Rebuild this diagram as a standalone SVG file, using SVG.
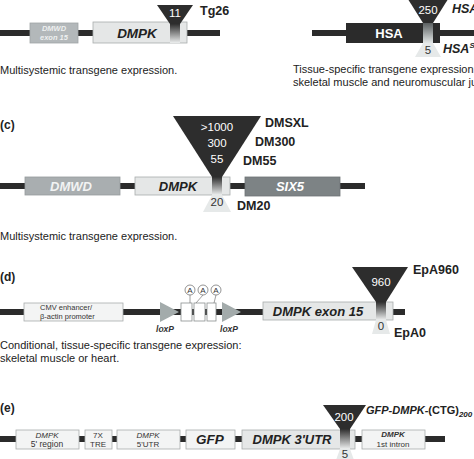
<svg xmlns="http://www.w3.org/2000/svg" width="474" height="459" viewBox="0 0 474 459">
<defs>
<linearGradient id="stripe" x1="0" y1="0" x2="0" y2="1">
<stop offset="0" stop-color="#2e2e2e"/>
<stop offset="1" stop-color="#eceeee"/>
</linearGradient>
<linearGradient id="stripeL" x1="0" y1="0" x2="0" y2="1">
<stop offset="0" stop-color="#5a5f60"/>
<stop offset="1" stop-color="#e2e6e6"/>
</linearGradient>
<style>
text{font-family:"Liberation Sans",Arial,sans-serif;fill:#222}
.bb{stroke:#2b2b2b;stroke-width:6;fill:none}
.lbox{fill:#e5e7e7;stroke:#a9adad;stroke-width:0.8}
.wbox{fill:#f3f4f4;stroke:#a9adad;stroke-width:0.8}
.tri{fill:#2d2d2d}
.ltri{fill:#e6e9e9}
.cap{font-size:11px}
.lbl{font-size:12.5px;font-weight:bold}
.sec{font-size:12px;font-weight:bold}
.num{font-size:11.5px;fill:#fff;text-anchor:middle}
.numd{font-size:11.5px;fill:#333;text-anchor:middle}
.bi{font-weight:bold;font-style:italic;text-anchor:middle}
.sm{font-size:8px;text-anchor:middle;fill:#333}
</style>
</defs>

<g id="connectors">
<line class="bb" x1="0" y1="33" x2="220" y2="33"/>
<line class="bb" x1="312" y1="33" x2="474" y2="33"/>
<line class="bb" x1="0" y1="186" x2="365" y2="186"/>
<line class="bb" x1="0" y1="312" x2="405" y2="312"/>
<line class="bb" x1="0" y1="439" x2="445" y2="439"/>
</g>

<!-- (a) -->
<g id="a-dmwd">
<rect x="30" y="23" width="48" height="20" fill="#b3b8ba" stroke="#a0a5a7" stroke-width="0.8"/>
<text x="54" y="31" class="bi" style="font-size:7.5px;fill:#eef0f0">DMWD</text>
<text x="54" y="40" class="bi" style="font-size:7.5px;fill:#eef0f0">exon 15</text>
</g>
<g id="a-dmpk">
<rect class="lbox" x="93" y="22" width="94" height="21"/>
<text x="137" y="38" class="bi" style="font-size:13.5px">DMPK</text>
</g>
<g id="a-tg26">
<polygon class="tri" points="157,5 193,5 180,24 170,24"/>
<rect x="170" y="24" width="10" height="19" fill="url(#stripe)"/>
<text x="175" y="17" class="num">11</text>
<text x="200" y="15" class="lbl">Tg26</text>
</g>
<text x="0" y="74" class="cap">Multisystemic transgene expression.</text>

<!-- (b) -->
<g id="b-hsa">
<rect x="346" y="23" width="94" height="20" fill="#2b2b2b"/>
<text x="389" y="38" style="font-size:13px;font-weight:bold;fill:#fff;text-anchor:middle">HSA</text>
</g>
<g id="b-repeat">
<polygon class="tri" points="406,-4 450,-4 433,23 423,23"/>
<rect x="423" y="23" width="10" height="20" fill="url(#stripeL)"/>
<polygon class="ltri" points="415,57 441,57 433,43 423,43"/>
<text x="428" y="14" class="num">250</text>
<text x="428" y="54" class="numd">5</text>
<text x="452" y="13" class="lbl" font-style="italic">HSA<tspan font-size="8" dy="-5">LR</tspan></text>
<text x="443" y="53" class="lbl" font-style="italic">HSA<tspan font-size="8" dy="-5">SR</tspan></text>
</g>
<text x="293" y="73" class="cap">Tissue-specific transgene expression:</text>
<text x="293" y="86" class="cap">skeletal muscle and neuromuscular junction.</text>

<!-- (c) -->
<text x="0" y="129" class="sec">(c)</text>
<g id="c-dmwd">
<rect x="25" y="177" width="95" height="18" fill="#a9aeb0" stroke="#969b9d" stroke-width="0.8"/>
<text x="71" y="191" class="bi" style="font-size:13px;fill:#f2f3f3">DMWD</text>
</g>
<g id="c-dmpk">
<rect class="lbox" x="135" y="177" width="95" height="18"/>
<text x="178" y="191" class="bi" style="font-size:13px">DMPK</text>
</g>
<g id="c-six5">
<rect x="245" y="177" width="95" height="19" fill="#7d8385" stroke="#6e7476" stroke-width="0.8"/>
<text x="290" y="191" class="bi" style="font-size:13px;fill:#fff">SIX5</text>
</g>
<g id="c-repeat">
<polygon class="tri" points="173,116 261,116 222,177 212,177"/>
<rect x="212" y="177" width="10" height="18" fill="url(#stripe)"/>
<polygon class="ltri" points="203,212 231,212 222,195 212,195"/>
<text x="217" y="131" class="num">&gt;1000</text>
<text x="217" y="147" class="num">300</text>
<text x="217" y="163" class="num">55</text>
<text x="217" y="206" class="numd">20</text>
<text x="265" y="127" class="lbl">DMSXL</text>
<text x="255" y="146" class="lbl">DM300</text>
<text x="243" y="165" class="lbl">DM55</text>
<text x="237" y="210" class="lbl">DM20</text>
</g>
<text x="0" y="240" class="cap">Multisystemic transgene expression.</text>

<!-- (d) -->
<text x="0" y="281" class="sec">(d)</text>
<g id="d-cmv">
<rect class="wbox" x="24" y="303" width="99" height="18"/>
<text x="40" y="310" style="font-size:7.5px;fill:#333">CMV enhancer/</text>
<text x="40" y="319" style="font-size:7.5px;fill:#333">β-actin promoter</text>
</g>
<g id="d-loxp1">
<polygon points="160,302 160,322 179,312" fill="#a3abab"/>
<text x="165" y="332" style="font-size:8.5px;font-weight:bold;font-style:italic;text-anchor:middle;fill:#333">loxP</text>
</g>
<g id="d-stop">
<rect x="181" y="303" width="11" height="18" fill="#fff" stroke="#8a8f8f" stroke-width="0.8"/>
<rect x="194" y="303" width="11" height="18" fill="#fff" stroke="#8a8f8f" stroke-width="0.8"/>
<rect x="207" y="303" width="9" height="18" fill="#fff" stroke="#8a8f8f" stroke-width="0.8"/>
<line x1="190" y1="295" x2="190" y2="303" stroke="#777" stroke-width="0.7"/>
<line x1="203" y1="295" x2="196" y2="303" stroke="#777" stroke-width="0.7"/>
<line x1="216" y1="295" x2="214" y2="303" stroke="#777" stroke-width="0.7"/>
<circle cx="190" cy="290" r="5" fill="#fff" stroke="#666" stroke-width="0.7"/>
<circle cx="203" cy="290" r="5" fill="#fff" stroke="#666" stroke-width="0.7"/>
<circle cx="216" cy="290" r="5" fill="#fff" stroke="#666" stroke-width="0.7"/>
<text x="190" y="293" class="sm">A</text>
<text x="203" y="293" class="sm">A</text>
<text x="216" y="293" class="sm">A</text>
</g>
<g id="d-loxp2">
<polygon points="222,302 222,322 241,312" fill="#a3abab"/>
<text x="229" y="332" style="font-size:8.5px;font-weight:bold;font-style:italic;text-anchor:middle;fill:#333">loxP</text>
</g>
<g id="d-dmpk">
<rect class="lbox" x="263" y="302" width="130" height="18"/>
<text x="318" y="316" class="bi" style="font-size:13px">DMPK exon 15</text>
</g>
<g id="d-repeat">
<polygon class="tri" points="352,267 408,267 386,302 376,302"/>
<rect x="376" y="302" width="10" height="18" fill="url(#stripe)"/>
<polygon class="ltri" points="372,334 390,334 386,320 376,320"/>
<text x="381" y="286" class="num">960</text>
<text x="381" y="330" class="numd">0</text>
<text x="413" y="274" class="lbl">EpA960</text>
<text x="394" y="337" class="lbl">EpA0</text>
</g>
<text x="0" y="349" class="cap">Conditional, tissue-specific transgene expression:</text>
<text x="0" y="362" class="cap">skeletal muscle or heart.</text>

<!-- (e) -->
<text x="0" y="412" class="sec">(e)</text>
<g id="e-5region">
<rect class="wbox" x="16" y="430" width="63" height="19"/>
<text x="47" y="438" class="sm" style="font-style:italic">DMPK</text>
<text x="47" y="447" class="sm" style="font-size:8.5px">5' region</text>
</g>
<g id="e-tre">
<rect class="wbox" x="85" y="430" width="27" height="19"/>
<text x="98" y="438" class="sm">7X</text>
<text x="98" y="447" class="sm">TRE</text>
</g>
<g id="e-5utr">
<rect class="wbox" x="117" y="430" width="63" height="19"/>
<text x="148" y="438" class="sm" style="font-style:italic">DMPK</text>
<text x="148" y="447" class="sm">5'UTR</text>
</g>
<g id="e-gfp">
<rect class="wbox" x="186" y="430" width="49" height="19"/>
<text x="210" y="444" class="bi" style="font-size:13.5px">GFP</text>
</g>
<g id="e-3utr">
<rect class="lbox" x="242" y="430" width="113" height="19"/>
<text x="292" y="444" class="bi" style="font-size:13px">DMPK 3'UTR</text>
</g>
<g id="e-intron">
<rect class="wbox" x="362" y="430" width="63" height="19"/>
<text x="393" y="437" class="sm" style="font-style:italic;font-weight:bold">DMPK</text>
<text x="393" y="447" class="sm">1st intron</text>
</g>
<g id="e-repeat">
<polygon class="tri" points="323,405 366,405 350,429 340,429"/>
<rect x="340" y="429" width="10" height="20" fill="url(#stripe)"/>
<polygon class="ltri" points="336,460 354,460 350,449 340,449"/>
<text x="344" y="421" class="num">200</text>
<text x="345" y="458" class="numd">5</text>
<text x="366" y="414" style="font-size:11px;font-weight:bold;font-style:italic">GFP-DMPK-<tspan font-style="normal">(CTG)</tspan><tspan font-size="8" dy="3">200</tspan></text>
</g>
</svg>
